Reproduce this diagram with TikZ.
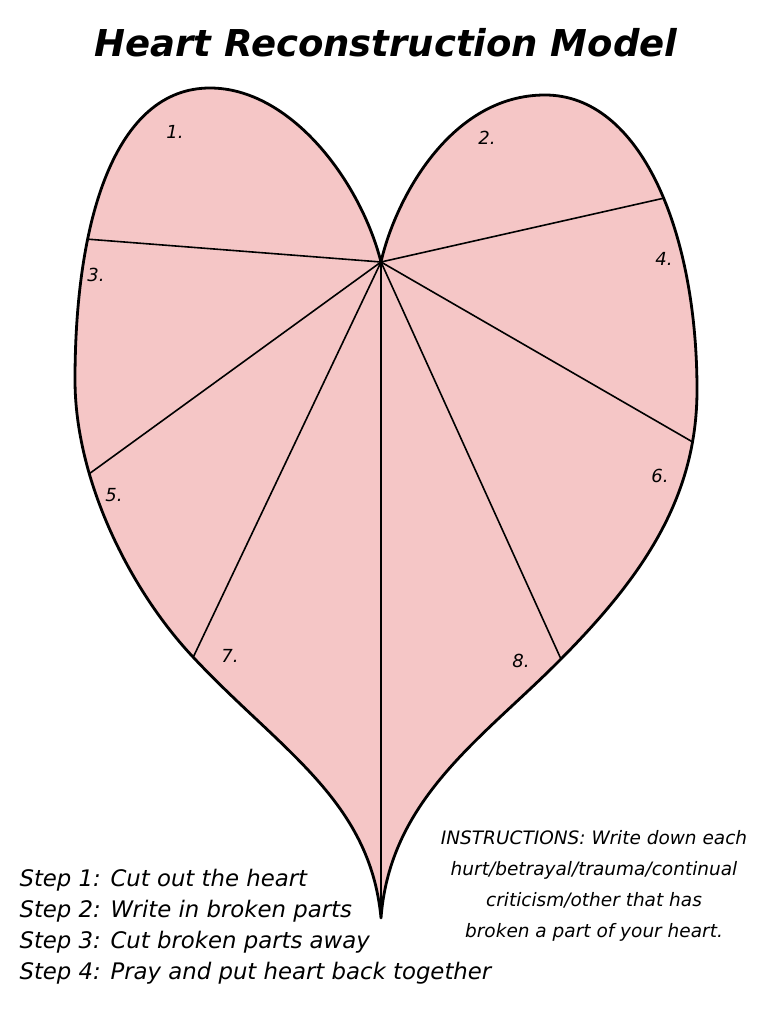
\documentclass[tikz,border=0pt]{standalone}
\usepackage{fontspec}
\setmainfont{DejaVu Sans}
\begin{document}
\begin{tikzpicture}[x=1pt,y=-1pt,
  num/.style={font=\itshape\fontsize{18}{18}\selectfont},
  txt/.style={font=\itshape\fontsize{22.8}{31}\selectfont, align=left, anchor=north west},
  cut/.style={line width=1.6pt}]
\useasboundingbox (0,0) rectangle (768,1024);
\fill[white] (0,0) rectangle (768,1024);
\node[font=\bfseries\itshape\fontsize{37}{37}\selectfont] (title) at (386,43) {Heart Reconstruction Model};
\def\heart{(381,262) .. controls (360,180) and (290,88) .. (210,88)
 .. controls (115,88) and (75,220) .. (75,380)
 .. controls (75,480) and (130,590) .. (193,657)
 .. controls (280,750) and (370,800) .. (381,918)
 .. controls (390,800) and (480,740) .. (557,663)
 .. controls (640,580) and (697,500) .. (697,390)
 .. controls (697,230) and (640,95) .. (545,95)
 .. controls (450,95) and (395,200) .. (381,262) -- cycle}
\fill[fill={rgb,255:red,245;green,198;blue,198}] \heart;
\coordinate (c) at (381,262);
\coordinate (e1) at (60,237);
\coordinate (e2) at (700,190);
\coordinate (e3) at (60,495);
\coordinate (e4) at (710,452);
\coordinate (e5) at (180,685);
\coordinate (e6) at (575,690);
\coordinate (e7) at (381,930);
\begin{scope}
\clip \heart;
\foreach \e in {e1,e2,e3,e4,e5,e6,e7} \draw[cut] (c) -- (\e);
\end{scope}
\draw[line width=2.8pt, line join=round] \heart;
\node[num] (n1) at (175,132) {1.};
\node[num] (n2) at (487,138) {2.};
\node[num] (n3) at (96,275) {3.};
\node[num] (n4) at (664,259) {4.};
\node[num] (n5) at (114,495) {5.};
\node[num] (n6) at (660,476) {6.};
\node[num] (n7) at (230,656) {7.};
\node[num] (n8) at (521,661) {8.};
\node[txt] (steps) at (16,866) {Step 1: Cut out the heart\\Step 2: Write in broken parts\\Step 3: Cut broken parts away\\Step 4: Pray and put heart back together};
\node[font=\itshape\fontsize{18.5}{31}\selectfont, align=center] (instr) at (594,886) {INSTRUCTIONS: Write down each\\hurt/betrayal/trauma/continual\\criticism/other that has\\broken a part of your heart.};
\end{tikzpicture}
\end{document}
